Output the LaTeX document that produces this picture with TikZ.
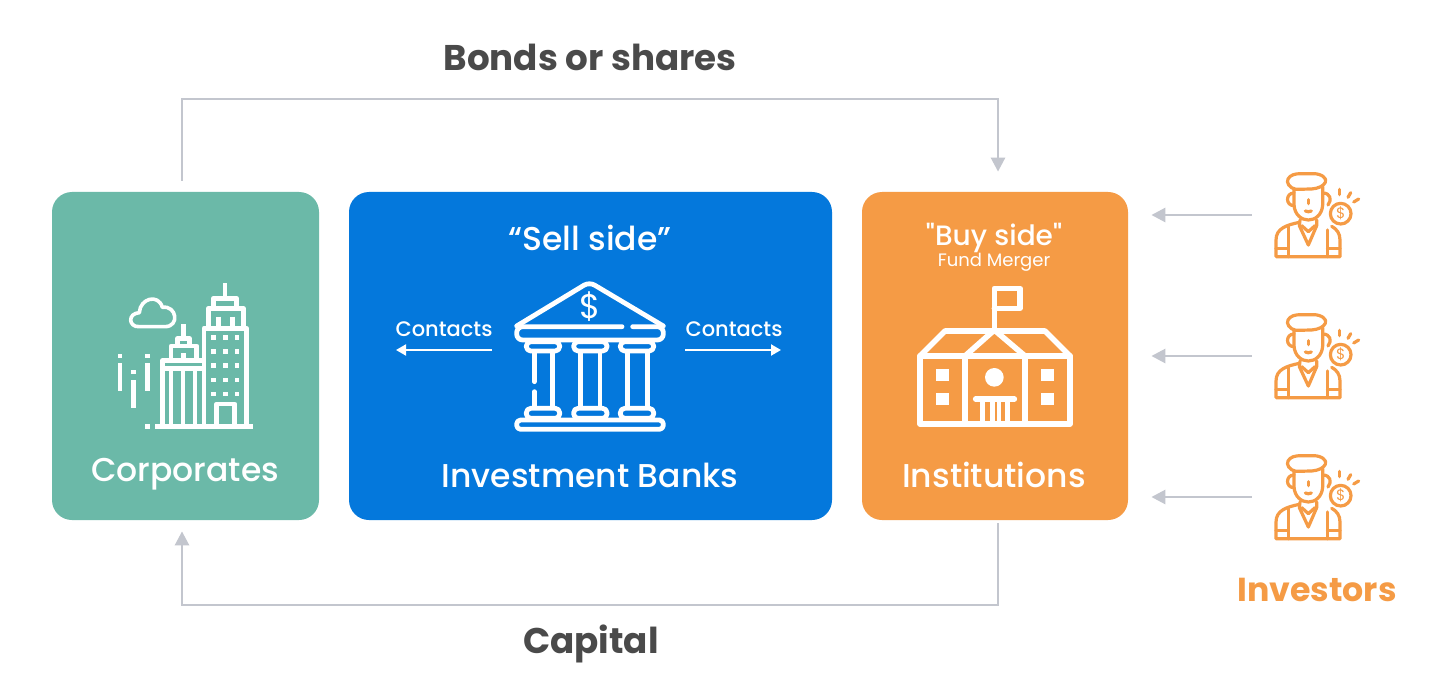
\documentclass[tikz,border=0pt]{standalone}
\usepackage{fontspec}
\setmainfont{Poppins}
\newfontfamily\mediumfont[Ligatures=NoCommon]{Poppins Medium}
\usetikzlibrary{arrows.meta}
\definecolor{corpteal}{HTML}{6BB9A8}
\definecolor{bankblue}{HTML}{0478DC}
\definecolor{instorange}{HTML}{F59B45}
\definecolor{flowgray}{HTML}{C3C6CE}
\definecolor{headgray}{HTML}{4A4A4A}
\tikzset{
  panel/.style={rounded corners=10pt, inner sep=0pt, text=white},
  flow/.style={draw=flowgray, line width=1.35pt, -{Triangle[length=7pt,width=7pt]}},
  contactflow/.style={draw=white, line width=1pt, -{Triangle[length=5pt,width=5.5pt]}},
  headlabel/.style={font=\fontsize{17.85}{20}\selectfont\bfseries, text=headgray},
  boxlabel/.style={font=\mediumfont\fontsize{16.5}{18}\selectfont, text=white},
  smalllabel/.style={font=\mediumfont\fontsize{10.5}{12}\selectfont, text=white},
  iconline/.style={draw=white, line width=2.4pt, line join=round, line cap=round},
  zoomgrid/.style={x=0.16667pt, y=-0.16667pt},
  pics/investor/.style={code={
    \begin{scope}[zoomgrid, draw=instorange, line width=1.6pt, line join=round, line cap=round]
      \draw (108,73) .. controls (88,70) and (78,52) .. (84,42) .. controls (90,30) and (105,26) .. (122,26)
        -- (160,26) .. controls (185,26) and (202,40) .. (196,52) .. controls (190,64) and (175,70) .. (155,72)
        -- cycle;
      \draw (102,72) -- (102,120) .. controls (104,150) and (125,165) .. (145,165)
        .. controls (165,165) and (186,150) .. (188,120) -- (188,66);
      \draw (102,84) .. controls (76,84) and (76,122) .. (102,122);
      \draw (188,84) .. controls (212,84) and (216,105) .. (204,120);
      \draw (145,104) -- (145,116);
      \draw (136,138) .. controls (142,141) and (148,141) .. (154,138);
      \draw (120,165) -- (118,182) -- (145,240) -- (170,182) -- (170,165);
      \draw (125,182) -- (145,200) -- (165,182);
      \draw (118,172) .. controls (80,180) and (48,190) .. (48,225) -- (48,275) -- (240,275) -- (240,225)
        .. controls (240,205) and (230,192) .. (215,184);
      \draw (85,185) -- (85,275);
      \draw (202,195) -- (202,275);
      \draw (48,250) -- (85,250);
      \draw (202,250) -- (240,250);
      \draw (242,146) circle[radius=31];
      \node[font=\fontsize{7.5}{8}\selectfont, text=instorange, inner sep=0pt] (coin) at (242,146) {\$};
      \draw (238,73) -- (238,89);
      \draw (272,83) -- (264,97);
      \draw (296,102) -- (281,111);
    \end{scope}
  }}
}
\begin{document}
\begin{tikzpicture}[x=0.5pt, y=-0.5pt]
  \useasboundingbox[fill=white] (0,0) rectangle (1449,700);

  \node[panel, fill=corpteal, minimum width=133.5pt, minimum height=164pt] (corp) at (185.5,356) {};
  \node[panel, fill=bankblue, minimum width=241.5pt, minimum height=164pt] (bank) at (590.5,356) {};
  \node[panel, fill=instorange, minimum width=133pt, minimum height=164pt] (inst) at (995,356) {};

  \node[headlabel] (bonds) at (590,57) {Bonds or shares};
  \node[headlabel] (capital) at (591,644) {Capital};
  \node[headlabel, font=\fontsize{16.6}{20}\selectfont\bfseries, text=instorange] (investors) at (1317,590) {Investors};
  \node[boxlabel] (corpname) at (185,474) {Corporates};
  \node[boxlabel] (bankname) at (590,475) {Investment Banks};
  \node[boxlabel] (instname) at (994,475) {Institutions};
  \node[boxlabel] (sellside) at (590,238) {“Sell side”};
  \node[boxlabel, font=\mediumfont\fontsize{14}{16}\selectfont] (buyside) at (994,238) {"Buy side"};
  \node[smalllabel, font=\fontsize{9}{10}\selectfont] (merger) at (994,262) {Fund Merger};
  \node[smalllabel] (contactsleft) at (444,329) {Contacts};
  \node[smalllabel] (contactsright) at (734,329) {Contacts};

  \coordinate (leftstart) at (492,350);
  \coordinate (leftend) at (396,350);
  \coordinate (rightstart) at (685,350);
  \coordinate (rightend) at (781,350);
  \draw[contactflow] (leftstart) -- (leftend);
  \draw[contactflow] (rightstart) -- (rightend);

  \draw[flow] ([shift={(-3.5,-11)}]corp.north) |- (590,99) -| ([shift={(3,-20)}]inst.north);
  \draw[flow] ([shift={(3,3)}]inst.south) |- (590,605) -| ([shift={(-3.5,11)}]corp.south);

  \foreach \name/\ypos in {inva/215, invb/356, invc/497} {
    \node[minimum width=65pt, minimum height=43pt, inner sep=0pt] (\name) at (1317,\ypos) {};
    \draw[flow] (\name.west) -- (\name.west -| inst.east) [shorten >=11.5pt];
  }
  \foreach \ypos in {165, 306, 447} \pic at (1260,\ypos) {investor};

  % city
  \begin{scope}[shift={(100,270)}, zoomgrid]
    \draw[iconline, line width=1.8pt] (118,170) .. controls (85,172) and (82,130) .. (118,128)
      .. controls (120,85) and (175,70) .. (187,112) .. controls (230,105) and (240,170) .. (195,170) -- cycle;
    \draw[iconline, line cap=butt] (165,470) -- (460,470);
    \draw[iconline, line cap=butt] (187,470) -- (187,272) -- (312,272);
    \draw[iconline, line cap=butt] (213,295) -- (213,470) (249,295) -- (249,470) (285,295) -- (285,470);
    \draw[iconline, line cap=butt] (187,295) -- (312,295);
    \draw[iconline, line cap=butt] (213,265) -- (213,228) -- (290,228) -- (290,265);
    \draw[iconline, line cap=butt] (232,228) -- (232,206) -- (268,206) -- (268,228);
    \draw[iconline, line cap=butt] (250,206) -- (250,162);
    \draw[iconline, line cap=butt] (250,250) -- (250,265);
    \draw[iconline, line cap=butt] (312,470) -- (312,175) -- (440,175) -- (440,470);
    \draw[iconline, line cap=butt] (325,175) -- (325,115) -- (430,115) -- (430,175);
    \draw[iconline, line cap=butt] (340,115) -- (340,85) -- (410,85) -- (410,115);
    \draw[iconline, line cap=butt] (375,85) -- (375,40);
    \draw[iconline, line cap=butt] (355,140) -- (355,172) (397,140) -- (397,172);
    \draw[iconline, line cap=butt] (350,470) -- (350,402) -- (404,402) -- (404,470);
    \foreach \wx in {340,376,411} \foreach \wy in {202,245,287,330,372}
      \fill[white] (\wx-7,\wy-7) rectangle (\wx+7,\wy+7);
    \foreach \dx/\dy in {143/470, 60/258, 100/306, 143/258}
      \fill[white] (\dx-7,\dy-7) rectangle (\dx+7,\dy+7);
    \draw[iconline, line cap=butt] (60,280) -- (60,364) (101,330) -- (101,413) (143,280) -- (143,364);
  \end{scope}

  % bank
  \begin{scope}[shift={(500,270)}, zoomgrid]
    \draw[iconline, rounded corners=3pt] (50,168) -- (268,36) -- (490,168);
    \draw[iconline, rounded corners=3pt] (366,170) -- (50,170) -- (50,210) -- (490,210) -- (490,170) -- (398,170);
    \foreach \cx in {129,271,411} {
      \draw[iconline, rounded corners=2.2pt] (\cx-50,215) rectangle (\cx+50,243);
      \draw[iconline, rounded corners=2.2pt] (\cx-50,415) rectangle (\cx+50,445);
    }
    \draw[iconline] (103,245) -- (103,335) (103,365) -- (103,412) (157,245) -- (157,412);
    \draw[iconline] (242,245) -- (242,412) (300,245) -- (300,412);
    \draw[iconline] (383,245) -- (383,412) (442,245) -- (442,412);
    \draw[iconline, rounded corners=2pt] (50,450) rectangle (490,478);
    \node[font=\fontsize{17}{18}\selectfont, text=white, inner sep=0pt] (dollar) at (271,110) {\$};
  \end{scope}

  % school
  \begin{scope}[shift={(905,275)}, zoomgrid]
    \draw[iconline, line width=2.8pt] (268,160) -- (268,40) -- (345,40) -- (345,100) -- (268,100);
    \draw[iconline, line width=2.8pt] (45,243) -- (120,168) -- (420,168) -- (495,243);
    \draw[iconline, line width=2.8pt] (45,243) rectangle (495,447);
    \draw[iconline, line width=2.8pt] (180,243) -- (268,165) -- (360,243);
    \draw[iconline, line width=2.8pt] (180,243) -- (180,447) (360,243) -- (360,447);
    \foreach \wx/\wy in {112/300, 112/372, 427/300, 427/372}
      \fill[white] (\wx-19,\wy-19) rectangle (\wx+19,\wy+19);
    \fill[white] (268,307) circle[radius=28];
    \draw[iconline, line width=2.8pt] (212,372) -- (328,372);
    \draw[iconline, line width=2.4pt] (232,372) -- (232,447) (262,372) -- (262,447) (282,372) -- (282,447) (308,372) -- (308,447);
  \end{scope}
\end{tikzpicture}
\end{document}
